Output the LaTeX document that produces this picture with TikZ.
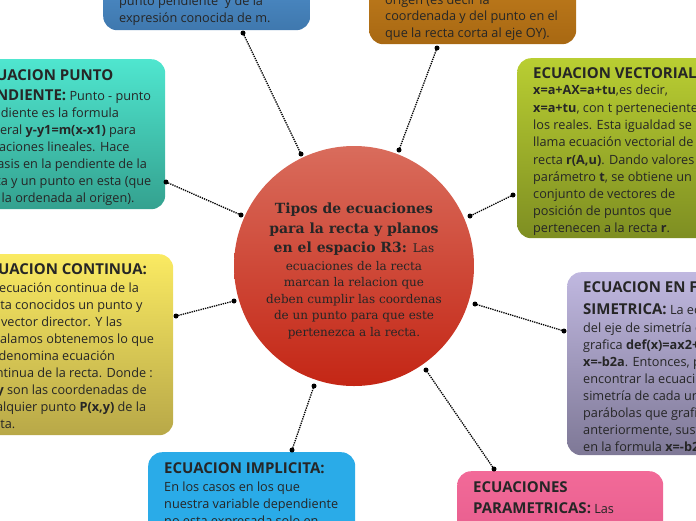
\documentclass[tikz,border=0pt]{standalone}
\usepackage{fontspec}
\setmainfont{Open Sans}
\newfontfamily\slab{DejaVu Serif}
\newcommand\hd[1]{{\fontsize{15}{17}\selectfont\bfseries #1}}
\definecolor{cA1}{HTML}{4F8FCB}\definecolor{cA2}{HTML}{3F78AE}
\definecolor{cB1}{HTML}{C27E1E}\definecolor{cB2}{HTML}{A86812}
\definecolor{cC1}{HTML}{4FE6CF}\definecolor{cC2}{HTML}{34A18F}
\definecolor{cD1}{HTML}{FAEA62}\definecolor{cD2}{HTML}{B8A848}
\definecolor{cE1}{HTML}{B9CE32}\definecolor{cE2}{HTML}{7E8E22}
\definecolor{cF1}{HTML}{C0B8E0}\definecolor{cF2}{HTML}{7E7896}
\definecolor{cG}{HTML}{2AABE8}
\definecolor{cH1}{HTML}{F26A98}\definecolor{cH2}{HTML}{E2588A}
\definecolor{cR1}{HTML}{D96C5C}\definecolor{cR2}{HTML}{C42615}
\begin{document}
\begin{tikzpicture}[x=1pt,y=-1pt,
 box/.style={rounded corners=14pt,anchor=north west,inner sep=0pt},
 tx/.style={anchor=base west,inner sep=0pt,font=\fontsize{12.7}{15}\selectfont,text=black!85},
 ct/.style={anchor=base,inner sep=0pt,text=black!85},
 con/.style={densely dotted,line width=1.3pt},
 dot/.style={circle,fill=black,inner sep=0pt,minimum size=5pt}]
\useasboundingbox (0,0) rectangle (696,520);
\clip (0,0) rectangle (696,520);
% boxes
\node[box,minimum width=207pt,minimum height=60pt,top color=cA1,bottom color=cA2] (bA) at (103,-30) {};
\node[box,minimum width=207pt,minimum height=75pt,top color=cB1,bottom color=cB2] (bB) at (369,-31) {};
\node[box,minimum width=197pt,minimum height=150pt,top color=cC1,bottom color=cC2] (bC) at (-32,59) {};
\node[box,minimum width=205pt,minimum height=181pt,top color=cD1,bottom color=cD2] (bD) at (-32,254) {};
\node[box,minimum width=200pt,minimum height=180pt,top color=cE1,bottom color=cE2] (bE) at (517,58) {};
\node[box,minimum width=200pt,minimum height=183pt,top color=cF1,bottom color=cF2] (bF) at (567,272) {};
\node[box,minimum width=207pt,minimum height=100pt,fill=cG] (bG) at (148,452) {};
\node[box,minimum width=206pt,minimum height=100pt,top color=cH1,bottom color=cH2] (bH) at (457,471) {};
\node[circle,minimum size=240pt,inner sep=0pt,top color=cR1,bottom color=cR2] (c) at (354,266) {};
% connectors
\foreach \a/\b [count=\i] in {243/33,437/48,166/182,513/195,176/316,564/331,292/450,494/469}{\coordinate (o\i) at (\a,\b);}
\foreach \a/\b [count=\i] in {301/154,399/150,241/215,470/216,234/301,475/304,314/386,426/370}{\coordinate (i\i) at (\a,\b);}
\foreach \i in {1,...,8}{\draw[con] (o\i) -- (i\i); \node[dot] at (o\i){}; \node[dot] at (i\i){};}
% top blue
\node[tx] at (119,5) {punto pendiente~ y de la};
\node[tx] at (119,22) {expresión conocida de m.};
% brown
\node[tx] at (385,4) {origen (es decir la};
\node[tx] at (385,20) {coordenada y del punto en el};
\node[tx] at (385,37) {que la recta corta al eje OY).};
% teal
\node[tx] at (-22,80) {\hd{ECUACION PUNTO}};
\node[tx] at (-22,100) {\hd{PENDIENTE:} Punto - punto};
\node[tx] at (-22,117) {pendiente es la formula};
\node[tx] at (-22,134) {general \textbf{y-y1=m(x-x1)} para};
\node[tx] at (-22,151) {ecuaciones lineales. Hace};
\node[tx] at (-22,168) {énfasis en la pendiente de la};
\node[tx] at (-22,185) {recta y un punto en esta (que};
\node[tx] at (-22,202) {sea la ordenada al origen).};
% yellow
\node[tx] at (-20,274) {\hd{ECUACION CONTINUA:}};
\node[tx] at (-18,292) {La ecuación continua de la};
\node[tx] at (-18,309) {recta conocidos un punto y};
\node[tx] at (-18,326) {un vector director. Y las};
\node[tx] at (-18,343) {igualamos obtenemos lo que};
\node[tx] at (-18,360) {se denomina ecuación};
\node[tx] at (-18,377) {continua de la recta. Donde :};
\node[tx] at (-18,394) {\textbf{x, y} son las coordenadas de};
\node[tx] at (-18,411) {cualquier punto \textbf{P(x,y)} de la};
\node[tx] at (-18,428) {recta.};
% lime
\node[tx] at (533,78) {\hd{ECUACION VECTORIAL:}};
\node[tx] at (533,94) {\textbf{x=a+AX=a+tu},es decir,};
\node[tx] at (533,112) {\textbf{x=a+tu}, con t pertenecientes a};
\node[tx] at (533,129) {los reales. Esta igualdad se};
\node[tx] at (533,146) {llama ecuación vectorial de la};
\node[tx] at (533,164) {recta \textbf{r(A,u)}. Dando valores al};
\node[tx] at (533,181) {parámetro \textbf{t}, se obtiene un};
\node[tx] at (533,198) {conjunto de vectores de};
\node[tx] at (533,215) {posición de puntos que};
\node[tx] at (533,232) {pertenecen a la recta \textbf{r}.};
% purple
\node[tx] at (583,292) {\hd{ECUACION EN FORMA}};
\node[tx] at (583,314) {\hd{SIMETRICA:} La ecuación};
\node[tx] at (583,332) {del eje de simetría de la};
\node[tx] at (583,349) {grafica \textbf{def(x)=ax2+bx+c} es};
\node[tx] at (583,366) {\textbf{x=-b2a}. Entonces, para};
\node[tx] at (583,383) {encontrar la ecuación del eje de};
\node[tx] at (583,400) {simetría de cada una de las};
\node[tx] at (583,417) {parábolas que graficamos};
\node[tx] at (583,434) {anteriormente, sustituimos};
\node[tx] at (583,451) {en la formula \textbf{x=-b2a}.};
% implicit
\node[tx] at (164,473) {\hd{ECUACION IMPLICITA:}};
\node[tx] at (164,491) {En los casos en los que};
\node[tx] at (164,508) {nuestra variable dependiente};
\node[tx] at (164,525) {no esta expresada solo en};
% pink
\node[tx] at (473,492) {\hd{ECUACIONES}};
\node[tx] at (473,513) {\hd{PARAMETRICAS:} Las};
% center
\node[ct,font=\slab\bfseries\fontsize{14}{16}\selectfont] at (354,213) {Tipos de ecuaciones};
\node[ct,font=\slab\bfseries\fontsize{14}{16}\selectfont] at (354,233) {para la recta y planos};
\node[ct,font=\slab\fontsize{14}{16}\selectfont] at (354,252) {\textbf{en el espacio R3:} {\fontsize{12}{13}\selectfont Las}};
\node[ct,font=\slab\fontsize{12}{13}\selectfont] at (354,270) {ecuaciones de la recta};
\node[ct,font=\slab\fontsize{12}{13}\selectfont] at (354,286) {marcan la relacion que};
\node[ct,font=\slab\fontsize{12}{13}\selectfont] at (354,303) {deben cumplir las coordenas};
\node[ct,font=\slab\fontsize{12}{13}\selectfont] at (354,319) {de un punto para que este};
\node[ct,font=\slab\fontsize{12}{13}\selectfont] at (354,336) {pertenezca a la recta.};
\end{tikzpicture}
\end{document}
